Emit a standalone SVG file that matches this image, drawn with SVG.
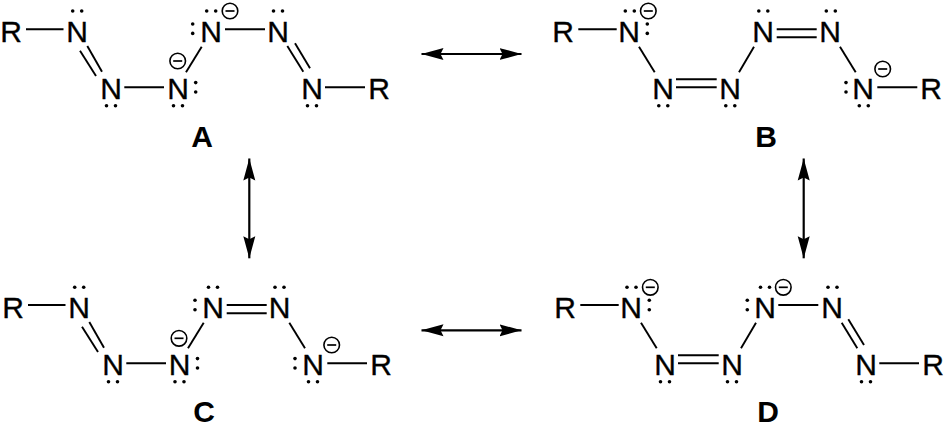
<svg xmlns="http://www.w3.org/2000/svg" width="945" height="425" viewBox="0 0 945 425">
<style>
text{font-family:"Liberation Sans",Arial,sans-serif;fill:#000;text-anchor:middle}
.a{font-size:30px;stroke:#000;stroke-width:0.35}
.l{font-size:30px;font-weight:bold}
.b line{stroke:#000;stroke-width:1.9;fill:none}
.b line.ar{stroke:#000;stroke-width:2.2;fill:none;marker-start:url(#h);marker-end:url(#h)}
.c{fill:#fff;stroke:#000;stroke-width:1.6}
.m{stroke:#000;stroke-width:1.7}
</style>
<defs>
<marker id="h" markerUnits="userSpaceOnUse" markerWidth="24" markerHeight="16" refX="22" refY="7" orient="auto-start-reverse"><path d="M22 7L0 1 3 7 0 13Z" fill="#000"/></marker>
<circle id="d" r="1.8" fill="#000"/>
<g id="q"><circle class="c" r="7.8"/><line class="m" x1="-4.5" x2="4.5"/></g>
<g id="t"><use href="#d" x="-4.5"/><use href="#d" x="4.5"/></g>
<g id="s"><use href="#d" y="-4.7"/><use href="#d" y="4.7"/></g>
</defs>
<g id="connectors" class="b">
<line x1="26" y1="29.3" x2="63.5" y2="29.3"/><line x1="80" y1="50.7" x2="96" y2="76"/><line x1="87.3" y1="46" x2="102" y2="71.7"/><line x1="124.3" y1="87.3" x2="164" y2="87.3"/><line x1="186" y1="72.3" x2="201.7" y2="46.7"/><line x1="225" y1="29.3" x2="265" y2="29.3"/><line x1="287.3" y1="46" x2="303.3" y2="71.7"/><line x1="295" y1="43.3" x2="310" y2="68.3"/><line x1="325" y1="87.3" x2="365" y2="87.3"/>
<line x1="578.3" y1="29.3" x2="616.7" y2="29.3"/><line x1="639" y1="46.7" x2="654.7" y2="72.3"/><line x1="676" y1="79.3" x2="716.7" y2="79.3"/><line x1="676" y1="87.3" x2="716.7" y2="87.3"/><line x1="739" y1="72.3" x2="754" y2="46.7"/><line x1="776.7" y1="29.3" x2="816.7" y2="29.3"/><line x1="776.7" y1="37.3" x2="816.7" y2="37.3"/><line x1="840" y1="46.7" x2="855.7" y2="72.3"/><line x1="877.3" y1="87.3" x2="917.3" y2="87.3"/>
<line x1="28" y1="305" x2="65.5" y2="305"/><line x1="82" y1="326.7" x2="98" y2="352"/><line x1="89.3" y1="322" x2="104" y2="347.7"/><line x1="126.3" y1="363.3" x2="166" y2="363.3"/><line x1="188" y1="348.3" x2="203.7" y2="322.7"/><line x1="226.7" y1="305" x2="266.7" y2="305"/><line x1="226.7" y1="313.3" x2="266.7" y2="313.3"/><line x1="289.3" y1="322.7" x2="305" y2="348.3"/><line x1="327.3" y1="363.3" x2="367" y2="363.3"/>
<line x1="580.3" y1="305" x2="618.7" y2="305"/><line x1="641" y1="322.7" x2="656.7" y2="348.3"/><line x1="678" y1="355.3" x2="718.7" y2="355.3"/><line x1="678" y1="363.3" x2="718.7" y2="363.3"/><line x1="741" y1="348.3" x2="756" y2="322.7"/><line x1="778.3" y1="305" x2="818.3" y2="305"/><line x1="841.7" y1="322.7" x2="857.3" y2="348.3"/><line x1="848.3" y1="319.3" x2="864" y2="345"/><line x1="879.3" y1="363.3" x2="919" y2="363.3"/>
<line class="ar" x1="421.5" y1="54" x2="521.5" y2="54"/>
<line class="ar" x1="421.5" y1="330.3" x2="521.5" y2="330.3"/>
<line class="ar" x1="249.3" y1="158.5" x2="249.3" y2="258.3"/>
<line class="ar" x1="803.7" y1="158.5" x2="803.7" y2="258.3"/>
</g>
<g id="molecule-A">
<g id="A-R1"><text class="a" x="11" y="41.5">R</text></g>
<g id="A-N1"><text class="a" x="77" y="41.5">N</text><use href="#t" x="77.2" y="11"/></g>
<g id="A-N2"><text class="a" x="111" y="99">N</text><use href="#t" x="111" y="105.7"/></g>
<g id="A-N3"><text class="a" x="178" y="99">N</text><use href="#t" x="178" y="105.7"/><use href="#s" x="195.7" y="87.3"/><use href="#q" x="177.7" y="61"/></g>
<g id="A-N4"><text class="a" x="211" y="41.5">N</text><use href="#t" x="211.2" y="11"/><use href="#s" x="192.7" y="28.7"/><use href="#q" x="230" y="11"/></g>
<g id="A-N5"><text class="a" x="278" y="41.5">N</text><use href="#t" x="278" y="11"/></g>
<g id="A-N6"><text class="a" x="312" y="99">N</text><use href="#t" x="312" y="105.7"/></g>
<g id="A-R2"><text class="a" x="379" y="99">R</text></g>
<g id="A-label"><text class="l" x="202" y="146.7">A</text></g>
</g>
<g id="molecule-B">
<g id="B-R1"><text class="a" x="563" y="41.5">R</text></g>
<g id="B-N1"><text class="a" x="629" y="41.5">N</text><use href="#t" x="629.8" y="11"/><use href="#s" x="647.3" y="28.7"/><use href="#q" x="648.3" y="11"/></g>
<g id="B-N2"><text class="a" x="663" y="99">N</text><use href="#t" x="663.3" y="105.7"/></g>
<g id="B-N3"><text class="a" x="730" y="99">N</text><use href="#t" x="730.3" y="105.7"/></g>
<g id="B-N4"><text class="a" x="763" y="41.5">N</text><use href="#t" x="763.3" y="11"/></g>
<g id="B-N5"><text class="a" x="830" y="41.5">N</text><use href="#t" x="830.8" y="11"/></g>
<g id="B-N6"><text class="a" x="863" y="99">N</text><use href="#t" x="863.8" y="105.7"/><use href="#s" x="846" y="87.3"/><use href="#q" x="882.7" y="69"/></g>
<g id="B-R2"><text class="a" x="931" y="99">R</text></g>
<g id="B-label"><text class="l" x="766" y="146.7">B</text></g>
</g>
<g id="molecule-C">
<g id="C-R1"><text class="a" x="13" y="317.5">R</text></g>
<g id="C-N1"><text class="a" x="79" y="317.5">N</text><use href="#t" x="79.2" y="287.3"/></g>
<g id="C-N2"><text class="a" x="113" y="375">N</text><use href="#t" x="113" y="381.7"/></g>
<g id="C-N3"><text class="a" x="179.5" y="375">N</text><use href="#t" x="179.5" y="381.7"/><use href="#s" x="197.5" y="363.3"/><use href="#q" x="179" y="338.3"/></g>
<g id="C-N4"><text class="a" x="213" y="317.5">N</text><use href="#t" x="213" y="287.3"/><use href="#s" x="195" y="305"/></g>
<g id="C-N5"><text class="a" x="279.5" y="317.5">N</text><use href="#t" x="279.5" y="287.3"/></g>
<g id="C-N6"><text class="a" x="313" y="375">N</text><use href="#t" x="313" y="381.7"/><use href="#s" x="295" y="363.3"/><use href="#q" x="331.7" y="345"/></g>
<g id="C-R2"><text class="a" x="381" y="375">R</text></g>
<g id="C-label"><text class="l" x="204" y="421.7">C</text></g>
</g>
<g id="molecule-D">
<g id="D-R1"><text class="a" x="565" y="317.5">R</text></g>
<g id="D-N1"><text class="a" x="631" y="317.5">N</text><use href="#t" x="631.5" y="287.3"/><use href="#s" x="649.3" y="305"/><use href="#q" x="650.3" y="287.3"/></g>
<g id="D-N2"><text class="a" x="665" y="375">N</text><use href="#t" x="665" y="381.7"/></g>
<g id="D-N3"><text class="a" x="732" y="375">N</text><use href="#t" x="732" y="381.7"/></g>
<g id="D-N4"><text class="a" x="765" y="317.5">N</text><use href="#t" x="765" y="287.3"/><use href="#s" x="747.3" y="305"/><use href="#q" x="783.3" y="287.3"/></g>
<g id="D-N5"><text class="a" x="832" y="317.5">N</text><use href="#t" x="832.5" y="287.3"/></g>
<g id="D-N6"><text class="a" x="866" y="375">N</text><use href="#t" x="866" y="381.7"/></g>
<g id="D-R2"><text class="a" x="933" y="375">R</text></g>
<g id="D-label"><text class="l" x="768" y="421.7">D</text></g>
</g>
</svg>
